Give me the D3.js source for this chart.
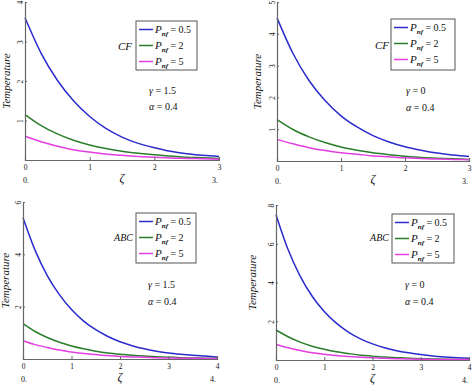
<!DOCTYPE html>
<html>
<head>
<meta charset="utf-8">
<script src="https://cdn.jsdelivr.net/npm/d3@7"></script>
<style>
  html, body { margin: 0; padding: 0; background: #fff; }
  svg { display: block; }
</style>
</head>
<body>
<svg id="chart" width="474" height="388"></svg>
<script>
// ---------- data ----------
const xTop = [0, 0.25, 0.5, 0.75, 1, 1.25, 1.5, 1.75, 2, 2.25, 2.5, 2.75, 3];
const xBottom = [0, 0.25, 0.5, 0.75, 1, 1.25, 1.5, 1.75, 2, 2.25, 2.5, 2.75, 3, 3.25, 3.5, 3.75, 4];

const seriesLabels = ["0.5", "2", "5"];

// CF, gamma = 1.5
const cfG15Blue  = [3.6, 2.7, 2.02, 1.5, 1.1, 0.8, 0.58, 0.42, 0.31, 0.22, 0.16, 0.12, 0.09];
const cfG15Green = [1.15, 0.87, 0.66, 0.5, 0.38, 0.29, 0.22, 0.17, 0.13, 0.1, 0.07, 0.06, 0.04];
const cfG15Pink  = [0.6, 0.46, 0.35, 0.26, 0.2, 0.15, 0.12, 0.09, 0.07, 0.05, 0.04, 0.03, 0.02];

// CF, gamma = 0
const cfG0Blue  = [4.5, 3.38, 2.53, 1.9, 1.42, 1.07, 0.8, 0.6, 0.45, 0.34, 0.25, 0.19, 0.14];
const cfG0Green = [1.3, 0.99, 0.76, 0.58, 0.44, 0.34, 0.26, 0.2, 0.15, 0.11, 0.09, 0.07, 0.05];
const cfG0Pink  = [0.68, 0.54, 0.42, 0.33, 0.26, 0.21, 0.16, 0.13, 0.1, 0.08, 0.06, 0.05, 0.04];

// ABC, gamma = 1.5
const abcG15Blue  = [5.4, 4.15, 3.19, 2.46, 1.89, 1.45, 1.12, 0.86, 0.66, 0.51, 0.39, 0.3, 0.23, 0.18, 0.14, 0.11, 0.08];
const abcG15Green = [1.35, 1.05, 0.82, 0.64, 0.5, 0.39, 0.3, 0.23, 0.18, 0.14, 0.11, 0.09, 0.07, 0.05, 0.04, 0.03, 0.02];
const abcG15Pink  = [0.7, 0.55, 0.44, 0.34, 0.27, 0.21, 0.17, 0.13, 0.1, 0.08, 0.07, 0.05, 0.04, 0.03, 0.03, 0.02, 0.02];

// ABC, gamma = 0
const abcG0Blue  = [7.5, 5.7, 4.33, 3.29, 2.5, 1.9, 1.44, 1.09, 0.83, 0.63, 0.48, 0.37, 0.28, 0.21, 0.16, 0.12, 0.09];
const abcG0Green = [1.55, 1.2, 0.92, 0.71, 0.55, 0.42, 0.33, 0.25, 0.2, 0.15, 0.12, 0.09, 0.07, 0.05, 0.04, 0.03, 0.03];
const abcG0Pink  = [0.8, 0.63, 0.49, 0.38, 0.3, 0.23, 0.18, 0.14, 0.11, 0.09, 0.07, 0.05, 0.04, 0.03, 0.03, 0.02, 0.02];

const xTicksTop = [0, 1, 2, 3];
const xTicksBottom = [0, 1, 2, 3, 4];
const yTicksP1 = [1, 2, 3, 4];
const yTicksP2 = [1, 2, 3, 4, 5];
const yTicksP3 = [2, 4, 6];
const yTicksP4 = [2, 4, 6, 8];

// ---------- styles / layout ----------
const colors = ["#2b2bcc", "#2a7d2a", "#e23ee2"];
const SERIF = "'Liberation Serif', 'Times New Roman', Times, serif";
const INK = "#111";

const panels = [
  { xs: xTop, ys: [cfG15Blue, cfG15Green, cfG15Pink], xMax: 3, yMax: 4, xTicks: xTicksTop, yTicks: yTicksP1,
    left: 25, right: 219, bottom: 160, top: 2, model: "CF", gamma: "1.5",
    lx: 136, ly: 21, lw: 61, lh: 49, modelX: 132, modelY: 50, gx: 149, gy: 94, ay: 110, ylabX: 10, endLabel: "3." },
  { xs: xTop, ys: [cfG0Blue, cfG0Green, cfG0Pink], xMax: 3, yMax: 5, xTicks: xTicksTop, yTicks: yTicksP2,
    left: 277, right: 469, bottom: 161, top: 2, model: "CF", gamma: "0",
    lx: 391, ly: 19, lw: 64, lh: 51, modelX: 389, modelY: 49, gx: 406, gy: 94, ay: 111, ylabX: 261, endLabel: "3." },
  { xs: xBottom, ys: [abcG15Blue, abcG15Green, abcG15Pink], xMax: 4, yMax: 6, xTicks: xTicksBottom, yTicks: yTicksP3,
    left: 23, right: 217, bottom: 359, top: 202, model: "ABC", gamma: "1.5",
    lx: 136, ly: 213, lw: 60, lh: 50, modelX: 133, modelY: 241, gx: 148, gy: 288, ay: 305, ylabX: 9, endLabel: "4." },
  { xs: xBottom, ys: [abcG0Blue, abcG0Green, abcG0Pink], xMax: 4, yMax: 8, xTicks: xTicksBottom, yTicks: yTicksP4,
    left: 276, right: 469, bottom: 360, top: 205, model: "ABC", gamma: "0",
    lx: 392, ly: 214, lw: 62, lh: 49, modelX: 389, modelY: 241, gx: 405, gy: 288, ay: 305, ylabX: 256, endLabel: "4." }
];

const svg = d3.select("#chart");

function txt(sel, size, italic) {
  return sel.attr("fill", INK).style("font-family", SERIF).style("font-size", size + "px")
    .style("font-style", italic ? "italic" : "normal");
}

panels.forEach(p => {
  const g = svg.append("g");
  const x = d3.scaleLinear().domain([0, p.xMax]).range([p.left, p.right]);
  const y = d3.scaleLinear().domain([0, p.yMax]).range([p.bottom, p.top]);

  // curves
  const line = d3.line().x(d => x(d[0])).y(d => y(d[1])).curve(d3.curveMonotoneX);
  p.ys.forEach((vals, i) => {
    g.append("path")
      .datum(p.xs.map((xv, j) => [xv, vals[j]]))
      .attr("fill", "none")
      .attr("stroke", colors[i])
      .attr("stroke-width", 1.5)
      .attr("d", line);
  });

  // x axis
  const xa = g.append("g").attr("transform", `translate(0,${p.bottom})`)
    .call(d3.axisBottom(x).tickValues(p.xTicks).tickSize(-3).tickPadding(5).tickFormat(d3.format("d")));
  xa.select(".domain").attr("stroke", "#666").attr("stroke-width", 1.2);
  xa.selectAll(".tick line").attr("stroke", "#666");
  xa.selectAll(".tick text").call(txt, 7.5, false);

  // y axis
  const ya = g.append("g").attr("transform", `translate(${p.left},0)`)
    .call(d3.axisLeft(y).tickValues(p.yTicks).tickSize(-2).tickFormat(d3.format("d")));
  ya.select(".domain").attr("stroke", "#666").attr("stroke-width", 1.2);
  ya.selectAll(".tick line").attr("stroke", "#666");
  ya.selectAll(".tick text")
    .attr("transform", "rotate(-90)")
    .attr("x", 0).attr("y", -2).attr("dy", 0)
    .attr("text-anchor", "middle")
    .call(txt, 7.5, false);

  // second row of x labels
  g.append("text").attr("x", p.left + 1).attr("y", p.bottom + 23)
    .attr("text-anchor", "middle").call(txt, 8, false).text("0.");
  g.append("text").attr("x", p.right - 4).attr("y", p.bottom + 23)
    .attr("text-anchor", "middle").call(txt, 8, false).text(p.endLabel);
  g.append("text").attr("x", (p.left + p.right) / 2).attr("y", p.bottom + 22)
    .attr("text-anchor", "middle").call(txt, 12, true).text("ζ");

  // y label
  g.append("text")
    .attr("transform", `translate(${p.ylabX},${(p.top + p.bottom) / 2}) rotate(-90)`)
    .attr("text-anchor", "middle")
    .call(txt, 11, true)
    .text("Temperature");

  // legend box
  g.append("rect").attr("x", p.lx).attr("y", p.ly).attr("width", p.lw).attr("height", p.lh)
    .attr("fill", "#fff").attr("stroke", "#555").attr("stroke-width", 1);
  seriesLabels.forEach((lab, i) => {
    const ry = p.ly + 8.5 + i * 16;
    g.append("line").attr("x1", p.lx + 3).attr("x2", p.lx + 17).attr("y1", ry).attr("y2", ry)
      .attr("stroke", colors[i]).attr("stroke-width", 1.5);
    const t = g.append("text").attr("x", p.lx + 19).attr("y", ry + 3.5).call(txt, 11, false);
    t.append("tspan").style("font-style", "italic").text("P");
    t.append("tspan").attr("dy", 2.5).style("font-size", "7px").style("font-style", "italic")
      .style("font-weight", "bold").text("nf");
    t.append("tspan").attr("dy", -2.5).style("font-size", "10px").text(" = " + lab);
  });

  // model label
  g.append("text").attr("x", p.modelX).attr("y", p.modelY).attr("text-anchor", "end")
    .call(txt, p.model === "CF" ? 11 : 10, true).text(p.model);

  // parameters
  g.append("text").attr("x", p.gx).attr("y", p.gy).call(txt, 10, false)
    .call(t => { t.append("tspan").style("font-style", "italic").text("γ"); t.append("tspan").text(" = " + p.gamma); });
  g.append("text").attr("x", p.gx).attr("y", p.ay).call(txt, 10, false)
    .call(t => { t.append("tspan").style("font-style", "italic").text("α"); t.append("tspan").text(" = 0.4"); });
});
</script>
</body>
</html>
